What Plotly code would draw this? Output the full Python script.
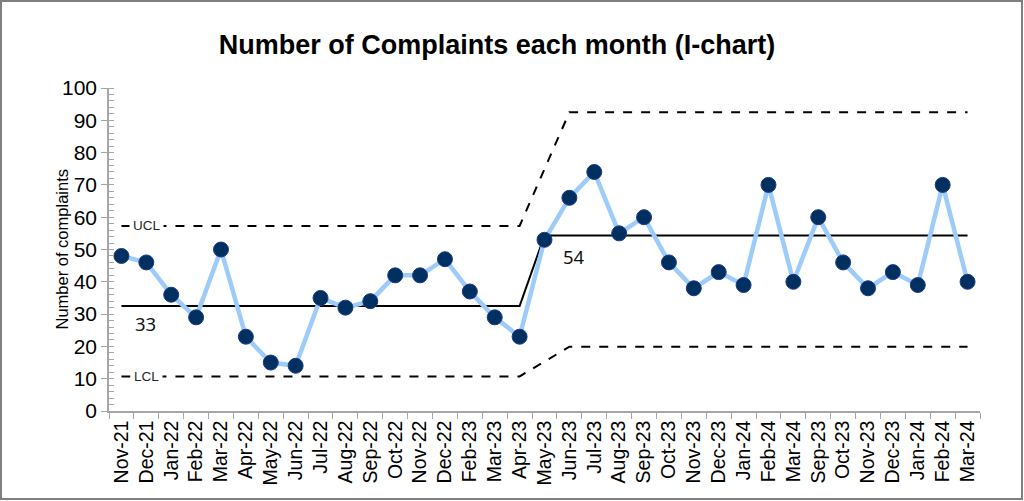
import plotly.graph_objects as go

# ---- data ----
months = ["Nov-21", "Dec-21", "Jan-22", "Feb-22", "Mar-22", "Apr-22", "May-22", "Jun-22",
          "Jul-22", "Aug-22", "Sep-22", "Oct-22", "Nov-22", "Dec-22", "Feb-23", "Mar-23",
          "Apr-23", "May-23", "Jun-23", "Jul-23", "Aug-23", "Sep-23", "Oct-23", "Nov-23",
          "Dec-23", "Jan-24", "Feb-24", "Mar-24", "Sep-23", "Oct-23", "Nov-23", "Dec-23",
          "Jan-24", "Feb-24", "Mar-24"]
complaints = [48, 46, 36, 29, 50, 23, 15, 14, 35, 32, 34, 42, 42, 47, 37, 29, 23, 53,
              66, 74, 55, 60, 46, 38, 43, 39, 70, 40, 60, 46, 38, 43, 39, 70, 40]
center = [32.5] * 17 + [54.3] * 18
ucl = [57.3] * 17 + [None] + [92.5] * 17
lcl = [10.7] * 17 + [None] + [19.9] * 17

xs = list(range(len(months)))

# ---- layout geometry ----
W, H = 1024, 501
ML, MR, MT, MB = 109, 44, 88, 90
PW = W - ML - MR
PH = H - MT - MB

def px_x(p):
    return (p - ML) / PW

def px_y(p):
    return (H - MB - p) / PH

fig = go.Figure()

fig.add_trace(go.Scatter(x=xs, y=ucl, mode="lines", connectgaps=True,
                         line=dict(color="black", width=2, dash="dash"),
                         hoverinfo="skip", showlegend=False))
fig.add_trace(go.Scatter(x=xs, y=lcl, mode="lines", connectgaps=True,
                         line=dict(color="black", width=2, dash="dash"),
                         hoverinfo="skip", showlegend=False))
fig.add_trace(go.Scatter(x=xs, y=center, mode="lines",
                         line=dict(color="black", width=2),
                         hoverinfo="skip", showlegend=False))
fig.add_trace(go.Scatter(x=xs, y=complaints, mode="lines+markers",
                         line=dict(color="#9DCBFA", width=4.5),
                         marker=dict(size=15, color="#00305F",
                                     line=dict(color="#1C3A8A", width=1)),
                         showlegend=False))

lab_font = dict(family="Liberation Sans, Arial", size=13.5, color="#262626")
num_font = dict(family="Noto Sans, DejaVu Sans", size=18.5, color="#111111")
annotations = [
    dict(x=1, y=ucl[0], text="UCL", showarrow=False, font=lab_font,
         bgcolor="white", borderpad=3, xref="x", yref="y"),
    dict(x=1, y=lcl[0], text="LCL", showarrow=False, font=lab_font,
         bgcolor="white", borderpad=3, xref="x", yref="y"),
    dict(x=0.95, y=27.2, text="33", showarrow=False, font=num_font,
         xref="x", yref="y"),
    dict(x=18.2, y=47.7, text="54", showarrow=False, font=num_font,
         xref="x", yref="y"),
    dict(x=px_x(50), y=0.5, xref="paper", yref="paper", text="Number of complaints",
         textangle=-90, showarrow=False,
         font=dict(family="Liberation Sans, Arial", size=16.5, color="black")),
]

fig.update_layout(
    width=W, height=H,
    margin=dict(l=ML, r=MR, t=MT, b=MB),
    paper_bgcolor="white", plot_bgcolor="white",
    title=dict(text="<b>Number of Complaints each month (I-chart)</b>",
               x=px_x(497), xref="paper", xanchor="center",
               y=1 - 45 / H, yref="container", yanchor="middle",
               font=dict(family="Liberation Sans, Arial", size=27, color="black")),
    annotations=annotations,
    shapes=[dict(type="rect", xref="paper", yref="paper",
                 x0=px_x(1), x1=px_x(1022), y0=px_y(499), y1=px_y(1),
                 line=dict(color="#7F7F7F", width=2), fillcolor="rgba(0,0,0,0)",
                 layer="below")],
)

fig.update_xaxes(
    range=[-0.5, len(months) - 0.5],
    tickmode="array", tickvals=xs, ticktext=months, tickangle=-90,
    ticks="", ticklen=0,
    tickfont=dict(family="Liberation Sans, Arial", size=19.5, color="black"),
    showline=True, linecolor="#A6A6A6", linewidth=1.5,
    showgrid=False, zeroline=False,
    minor=dict(tickmode="linear", tick0=-0.5, dtick=1, ticks="outside",
               ticklen=6, tickcolor="#A6A6A6", showgrid=False),
)
fig.update_yaxes(
    range=[0, 100], dtick=10, ticks="outside", ticklen=6, tickcolor="#A6A6A6",
    tickfont=dict(family="Liberation Sans, Arial", size=21, color="black"),
    showline=True, linecolor="#A6A6A6", linewidth=1.5,
    showgrid=False, zeroline=False,
    minor=dict(dtick=2, ticks="inside", ticklen=5, tickcolor="#A6A6A6", showgrid=False),
)

fig.write_html("out.html")
